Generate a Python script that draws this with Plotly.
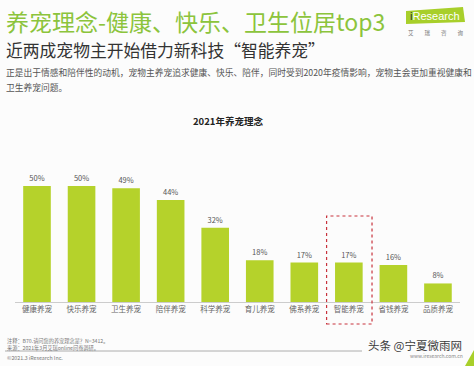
import plotly.graph_objects as go

categories = ["健康养宠", "快乐养宠", "卫生养宠", "陪伴养宠", "科学养宠", "育儿养宠", "佛系养宠", "智能养宠", "省钱养宠", "品质养宠"]
values = [50, 50, 49, 44, 32, 18, 17, 17, 16, 8]
value_labels = [f"{v}%" for v in values]
highlight = "智能养宠"

W, H = 474, 366
CJK = "Noto Sans CJK SC"
BAR = "#b5d22b"
GREEN_T = "#8cc43c"

fig = go.Figure()
fig.add_trace(go.Bar(
    x=list(range(len(categories))), y=values,
    marker=dict(color=BAR, line=dict(width=0)),
    width=0.62,
    text=value_labels, textposition="outside",
    textfont=dict(family=CJK, size=7.5, color="#555555"),
    cliponaxis=False, hoverinfo="skip",
))

# axis geometry: domain 15..460 px, bar centers at 37 + i*44.55
step = 44.55
x_lo = (15 - 37) / step
x_hi = (460 - 37) / step
top_m, bot_m = 140, 64
plot_h = H - top_m - bot_m
base_px = H - bot_m
y_hi = plot_h / 2.32

def py(ypx):
    # pixel (from top) -> paper y (relative to plot area)
    return (base_px - ypx) / plot_h

def px(xpx):
    return xpx / W

fig.update_layout(
    width=W, height=H,
    margin=dict(l=0, r=0, t=top_m, b=bot_m),
    paper_bgcolor="#fcfcfc", plot_bgcolor="rgba(0,0,0,0)",
    showlegend=False,
    xaxis=dict(
        domain=[15 / W, 460 / W], range=[x_lo, x_hi],
        tickmode="array", tickvals=list(range(len(categories))), ticktext=categories,
        tickfont=dict(family=CJK, size=7.5, color="#666666"),
        showline=True, linecolor="#cccccc", linewidth=1,
        showgrid=False, zeroline=False, ticks="", ticklen=0,
    ),
    yaxis=dict(range=[0, y_hi], visible=False, fixedrange=True),
)

hi = categories.index(highlight)
fig.add_shape(type="rect", xref="x", yref="paper",
              x0=hi - 0.5, x1=hi + 0.52,
              y0=py(324), y1=py(216),
              line=dict(color="#c8323c", width=1.2, dash="dot"),
              fillcolor="rgba(0,0,0,0)")

def ann(text, x, y, size, color="#333333", xanchor="left", bold=False, family=CJK, align="left"):
    if bold:
        text = f"<b>{text}</b>"
    fig.add_annotation(text=text, x=px(x), y=py(y), xref="paper", yref="paper",
                       xanchor=xanchor, yanchor="middle", showarrow=False, align=align,
                       font=dict(family=family, size=size, color=color))

ann("养宠理念-健康、快乐、卫生位居top3", 4, 21, 23, GREEN_T)
ann("近两成宠物主开始借力新科技“智能养宠”", 4, 50, 16.8, "#333333")
ann("正是出于情感和陪伴性的动机，宠物主养宠追求健康、快乐、陪伴，同时受到2020年疫情影响，宠物主会更加重视健康和", 4, 73, 8.75, "#555555")
ann("卫生养宠问题。", 4, 87, 8.75, "#555555")
ann("2021年养宠理念", 228, 121, 9.5, "#222222", xanchor="center", bold=True)

# logo
fig.add_shape(type="path", xref="paper", yref="paper",
              path=f"M {px(406)} {py(24)} L {px(465)} {py(22)} L {px(463)} {py(7)} L {px(406)} {py(11)} Z",
              fillcolor="#a8cf2a", line=dict(width=0))
ann("<span style='color:#333'>i</span>Research", 435, 16, 11, "#ffffff", xanchor="center", family="Arial")
ann("艾　　瑞　　咨　　询", 436, 33, 5.5, "#777777", xanchor="center")

# footer
ann("注释：B70.请问您的养宠理念是？N=3412。<br>来源：2021年3月艾瑞online问卷调研。", 5, 344.5, 5.2, "#777777")
fig.add_shape(type="line", xref="paper", yref="paper", x0=px(5), x1=px(362),
              y0=py(351), y1=py(351), line=dict(color="#999999", width=0.8))
ann("©2021.3 iResearch Inc.", 5, 358, 5.3, "#777777")
ann("www.iresearch.com.cn", 465, 355, 5, "#888888", xanchor="right")
ann("头条 @宁夏微雨网", 464, 344.5, 11.5, "#3a3a3a", xanchor="right")
fig.add_shape(type="path", xref="paper", yref="paper",
              path=f"M {px(474)} {py(350)} L {px(474)} {py(366)} L {px(465)} {py(366)} Z",
              fillcolor="#a8cf2a", line=dict(width=0))

fig.write_html("out.html", config={"displayModeBar": False, "staticPlot": True},
               post_script="document.body.style.margin='0';document.body.style.overflow='hidden';")
